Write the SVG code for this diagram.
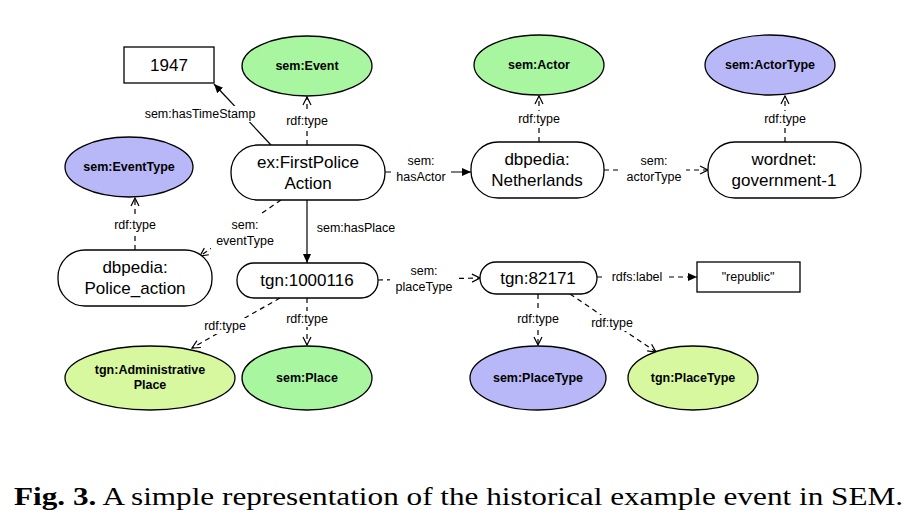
<svg xmlns="http://www.w3.org/2000/svg" width="919" height="530" viewBox="0 0 919 530">
<style>
.n{fill:#fff;stroke:#000;stroke-width:1.3}
.t{font-family:"Liberation Sans",Arial,sans-serif;font-size:17px;text-anchor:middle}
.e{font-family:"Liberation Sans",Arial,sans-serif;font-size:12.5px;font-weight:bold;text-anchor:middle}
.l{font-family:"Liberation Sans",Arial,sans-serif;font-size:12.5px;text-anchor:middle}
.g{fill:#a8f7a0;stroke:#000;stroke-width:1.3}
.p{fill:#b8b8f8;stroke:#000;stroke-width:1.3}
.y{fill:#d8f8a0;stroke:#000;stroke-width:1.3}
.s{stroke:#000;stroke-width:1.2;fill:none}
.d{stroke:#000;stroke-width:1.2;fill:none;stroke-dasharray:5 4}
.bg{fill:#fff}
</style>
<defs>
<marker id="fa" markerWidth="10" markerHeight="10" refX="9" refY="5" orient="auto" markerUnits="userSpaceOnUse"><path d="M0,1 L9,5 L0,9 z" fill="#000"/></marker>
<marker id="oa" markerWidth="10" markerHeight="10" refX="9" refY="5" orient="auto" markerUnits="userSpaceOnUse"><path d="M1,1 L9,5 L1,9" fill="none" stroke="#000" stroke-width="1.2"/></marker>
</defs>
<g id="connectors">
<line class="s" x1="271" y1="145" x2="214" y2="84" marker-end="url(#fa)"/>
<rect class="bg" x="136" y="106" width="128" height="16"/><text class="l" x="200" y="118">sem:hasTimeStamp</text>
<line class="d" x1="307" y1="145" x2="307" y2="97" marker-end="url(#oa)"/>
<rect class="bg" x="283" y="113" width="48" height="16"/><text class="l" x="307" y="125">rdf:type</text>
<line class="s" x1="385" y1="172" x2="471" y2="172" marker-end="url(#fa)"/>
<rect class="bg" x="391" y="152" width="60" height="34"/><text class="l" x="421" y="165">sem:</text><text class="l" x="421" y="181">hasActor</text>
<line class="d" x1="604" y1="170" x2="708" y2="170" marker-end="url(#oa)"/>
<rect class="bg" x="622" y="152" width="64" height="34"/><text class="l" x="654" y="165">sem:</text><text class="l" x="654" y="181">actorType</text>
<line class="d" x1="539" y1="142" x2="539" y2="96" marker-end="url(#oa)"/>
<rect class="bg" x="515" y="111" width="48" height="16"/><text class="l" x="539" y="123">rdf:type</text>
<line class="d" x1="785" y1="142" x2="785" y2="96" marker-end="url(#oa)"/>
<rect class="bg" x="761" y="111" width="48" height="16"/><text class="l" x="785" y="123">rdf:type</text>
<line class="d" x1="281" y1="200" x2="200" y2="256" marker-end="url(#oa)"/>
<rect class="bg" x="211" y="215" width="68" height="34"/><text class="l" x="245" y="229">sem:</text><text class="l" x="245" y="245">eventType</text>
<line class="d" x1="135" y1="250" x2="135" y2="198" marker-end="url(#oa)"/>
<rect class="bg" x="111" y="217" width="48" height="16"/><text class="l" x="135" y="229">rdf:type</text>
<line class="s" x1="307" y1="200" x2="307" y2="263" marker-end="url(#fa)"/>
<text class="l" x="356" y="232">sem:hasPlace</text>
<line class="d" x1="378" y1="280" x2="480" y2="278" marker-end="url(#oa)"/>
<rect class="bg" x="390" y="262" width="68" height="34"/><text class="l" x="424" y="275">sem:</text><text class="l" x="424" y="291">placeType</text>
<line class="d" x1="597" y1="277" x2="697" y2="277" marker-end="url(#fa)"/>
<rect class="bg" x="606" y="269" width="62" height="16"/><text class="l" x="637" y="281">rdfs:label</text>
<line class="d" x1="280" y1="298" x2="192" y2="348" marker-end="url(#oa)"/>
<rect class="bg" x="200" y="318" width="50" height="16"/><text class="l" x="225" y="330">rdf:type</text>
<line class="d" x1="307" y1="298" x2="307" y2="345" marker-end="url(#oa)"/>
<rect class="bg" x="283" y="311" width="48" height="16"/><text class="l" x="307" y="323">rdf:type</text>
<line class="d" x1="538" y1="294" x2="538" y2="345" marker-end="url(#oa)"/>
<rect class="bg" x="514" y="311" width="48" height="16"/><text class="l" x="538" y="323">rdf:type</text>
<line class="d" x1="570" y1="294" x2="656" y2="352" marker-end="url(#oa)"/>
<rect class="bg" x="587" y="315" width="50" height="16"/><text class="l" x="612" y="327">rdf:type</text>
</g>
<g id="n1947"><rect class="n" x="124" y="47" width="90" height="36"/><text class="t" x="169" y="71">1947</text></g>
<g id="semEvent"><ellipse class="g" cx="307" cy="66" rx="65" ry="30"/><text class="e" x="307" y="70">sem:Event</text></g>
<g id="semActor"><ellipse class="g" cx="539" cy="65" rx="65" ry="30"/><text class="e" x="539" y="69">sem:Actor</text></g>
<g id="semActorType"><ellipse class="p" cx="770" cy="65" rx="65" ry="30"/><text class="e" x="770" y="69">sem:ActorType</text></g>
<g id="semEventType"><ellipse class="p" cx="129" cy="167" rx="64" ry="30"/><text class="e" x="129" y="171">sem:EventType</text></g>
<g id="exFirst"><rect class="n" x="231" y="145" width="154" height="55" rx="27"/><text class="t" x="308" y="168">ex:FirstPolice</text><text class="t" x="308" y="189">Action</text></g>
<g id="dbNL"><rect class="n" x="471" y="142" width="133" height="56" rx="27"/><text class="t" x="537" y="165">dbpedia:</text><text class="t" x="537" y="186">Netherlands</text></g>
<g id="wordnet"><rect class="n" x="708" y="142" width="153" height="56" rx="27"/><text class="t" x="784" y="165">wordnet:</text><text class="t" x="784" y="186">government-1</text></g>
<g id="dbPA"><rect class="n" x="58" y="250" width="154" height="56" rx="27"/><text class="t" x="135" y="273">dbpedia:</text><text class="t" x="135" y="294">Police_action</text></g>
<g id="tgn1000116"><rect class="n" x="237" y="263" width="141" height="35" rx="17"/><text class="t" x="307" y="286">tgn:1000116</text></g>
<g id="tgn82171"><rect class="n" x="480" y="262" width="117" height="32" rx="16"/><text class="t" x="538" y="284">tgn:82171</text></g>
<g id="republic"><rect class="n" x="697" y="262" width="103" height="30"/><text class="l" x="748" y="281">"republic"</text></g>
<g id="tgnAdmin"><ellipse class="y" cx="150" cy="378" rx="85" ry="32"/><text class="e" x="150" y="374">tgn:Administrative</text><text class="e" x="150" y="389">Place</text></g>
<g id="semPlace"><ellipse class="g" cx="307" cy="378" rx="65" ry="32"/><text class="e" x="307" y="382">sem:Place</text></g>
<g id="semPlaceType"><ellipse class="p" cx="538" cy="378" rx="68" ry="32"/><text class="e" x="538" y="382">sem:PlaceType</text></g>
<g id="tgnPlaceType"><ellipse class="y" cx="693" cy="378" rx="65" ry="32"/><text class="e" x="693" y="382">tgn:PlaceType</text></g>
<text x="14" y="505" font-family="'Liberation Serif','Times New Roman',serif" font-size="26" textLength="889" lengthAdjust="spacingAndGlyphs"><tspan font-weight="bold">Fig. 3.</tspan> A simple representation of the historical example event in SEM.</text>
</svg>
